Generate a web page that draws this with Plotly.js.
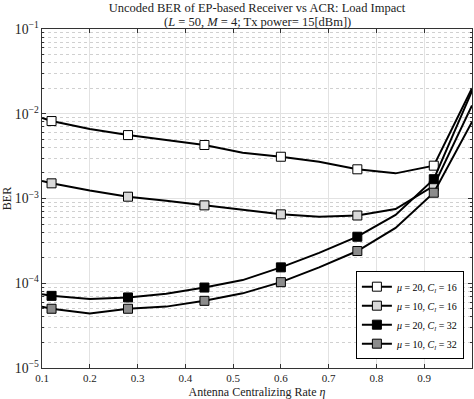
<!DOCTYPE html>
<html>
<head>
<meta charset="utf-8">
<script src="https://cdn.plot.ly/plotly-3.0.1.min.js"></script>
<style>html,body{margin:0;padding:0;background:#fff;}#chart{width:474px;height:399px;}</style>
</head>
<body>
<div id="chart"></div>
<script>
// Vertices of the curves (eta) and positions of the square markers
var etaLine = [0.1, 0.12, 0.2, 0.28, 0.36, 0.44, 0.52, 0.6, 0.68, 0.76, 0.84, 0.92, 1.0];
var markerIdx = [1, 3, 5, 7, 9, 11];

// BER values
var berMu20Ct16 = [8.9e-3, 8.2e-3, 6.6e-3, 5.6e-3, 4.9e-3, 4.28e-3, 3.47e-3, 3.11e-3, 2.72e-3, 2.21e-3, 1.98e-3, 2.44e-3, 2.0e-2];
var berMu10Ct16 = [1.61e-3, 1.51e-3, 1.24e-3, 1.05e-3, 9.4e-4, 8.3e-4, 7.3e-4, 6.5e-4, 6.1e-4, 6.3e-4, 7.5e-4, 1.41e-3, 1.25e-2];
var berMu20Ct32 = [7.4e-5, 7.1e-5, 6.5e-5, 6.8e-5, 7.5e-5, 8.9e-5, 1.09e-4, 1.54e-4, 2.28e-4, 3.54e-4, 6.4e-4, 1.69e-3, 1.85e-2];
var berMu10Ct32 = [5.3e-5, 5.0e-5, 4.4e-5, 5.0e-5, 5.3e-5, 6.2e-5, 7.6e-5, 1.03e-4, 1.54e-4, 2.40e-4, 4.5e-4, 1.17e-3, 8.0e-3];

var seriesNames = [
  '<i>μ</i> = 20, <i>C</i><sub><i>l</i></sub> = 16',
  '<i>μ</i> = 10, <i>C</i><sub><i>l</i></sub> = 16',
  '<i>μ</i> = 20, <i>C</i><sub><i>l</i></sub> = 32',
  '<i>μ</i> = 10, <i>C</i><sub><i>l</i></sub> = 32'
];
var titleLine1 = 'Uncoded BER of EP-based Receiver vs ACR: Load Impact';
var titleLine2 = '(<i>L</i> = 50, <i>M</i> = 4; Tx power= 15[dBm])';

var seriesData = [berMu20Ct16, berMu10Ct16, berMu20Ct32, berMu10Ct32];
var fillColors = ['#ffffff', '#d9d9d9', '#000000', '#8c8c8c'];

var traces = [];
seriesData.forEach(function (ys, i) {
  traces.push({
    x: etaLine, y: ys, type: 'scatter', mode: 'lines',
    line: {color: '#000', width: 2}, showlegend: false, hoverinfo: 'skip'
  });
  traces.push({
    x: markerIdx.map(function (k) { return etaLine[k]; }),
    y: markerIdx.map(function (k) { return ys[k]; }),
    type: 'scatter', mode: 'markers',
    marker: {symbol: 'square', size: 9, color: fillColors[i], line: {color: '#000', width: 1}},
    showlegend: false
  });
});
// legend entries
seriesData.forEach(function (ys, i) {
  traces.push({
    x: [null], y: [null], type: 'scatter', mode: 'lines+markers', name: seriesNames[i],
    line: {color: '#000', width: 2},
    marker: {symbol: 'square', size: 9, color: fillColors[i], line: {color: '#000', width: 1}}
  });
});

var font = 'Liberation Serif, Times New Roman, serif';
var layout = {
  width: 474, height: 399,
  margin: {l: 42, r: 2, t: 29, b: 31, pad: 0},
  paper_bgcolor: '#fff', plot_bgcolor: '#fff',
  font: {family: font, size: 11, color: '#222'},
  title: {
    text: titleLine1,
    font: {family: font, size: 12.5, color: '#222'},
    x: 257 / 474, xanchor: 'center', xref: 'container',
    y: 1 - 8 / 399, yanchor: 'middle', yref: 'container'
  },
  annotations: [{
    text: titleLine2, showarrow: false,
    xref: 'paper', yref: 'paper', x: 0.5, y: 1 + 7 / 339,
    xanchor: 'center', yanchor: 'middle',
    font: {family: font, size: 12.5, color: '#222'}
  }],
  xaxis: {
    range: [0.1, 1], dtick: 0.1, tick0: 0.1,
    ticks: 'inside', ticklen: 4, tickcolor: '#333', mirror: 'allticks',
    showline: true, linecolor: '#333', linewidth: 1,
    showgrid: true, gridcolor: '#e2e2e2', gridwidth: 1, zeroline: false,
    tickfont: {family: font, size: 11, color: '#222'},
    title: {text: 'Antenna Centralizing Rate <i>η</i>', font: {family: font, size: 12, color: '#222'}, standoff: 4}
  },
  yaxis: {
    type: 'log', range: [-5, -1], dtick: 1,
    exponentformat: 'power', showexponent: 'all',
    ticks: 'inside', ticklen: 4, tickcolor: '#333', mirror: 'allticks',
    showline: true, linecolor: '#333', linewidth: 1,
    showgrid: true, gridcolor: '#e2e2e2', gridwidth: 1, zeroline: false,
    minor: {dtick: 'D1', ticks: 'inside', ticklen: 2, tickcolor: '#333', showgrid: true, gridcolor: '#d0d0d0', griddash: 'dot', gridwidth: 1},
    tickfont: {family: font, size: 11, color: '#222'},
    title: {text: 'BER', font: {family: font, size: 12, color: '#222'}, standoff: 6}
  },
  legend: {
    x: 0.73, y: 0.026, xanchor: 'left', yanchor: 'bottom',
    bgcolor: '#fff', bordercolor: '#000', borderwidth: 1,
    font: {family: font, size: 10, color: '#000'},
    itemwidth: 30, tracegroupgap: 0
  },
  showlegend: true
};

Plotly.newPlot('chart', traces, layout, {displayModeBar: false, staticPlot: true});
</script>
</body>
</html>
